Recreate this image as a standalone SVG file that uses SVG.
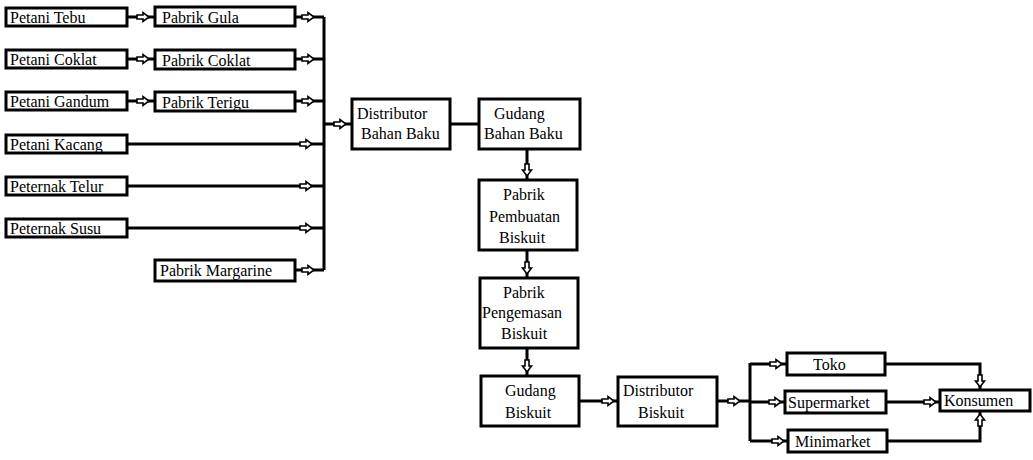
<svg xmlns="http://www.w3.org/2000/svg" xmlns:xlink="http://www.w3.org/1999/xlink" width="1033" height="460" viewBox="0 0 1033 460">
<style>
rect{fill:#fff;stroke:#000;stroke-width:3}
text{font-family:"Liberation Serif",serif;font-size:16px;fill:#000}
#connectors path{fill:none;stroke:#000;stroke-width:3}
.ah{fill:#fff;stroke:#000;stroke-width:1.6}
</style>
<defs><path id="ah" class="ah" d="M-6,-2 H0 V-4.5 L6,0 L0,4.5 V2 H-6 Z"/></defs>
<rect width="1033" height="460" style="fill:#fff;stroke:none"/>
<g id="connectors">
<path d="M127,17H155M127,59H155M127,101H155M295,17H324M295,59H324M295,101H324M127,144H324M127,186H324M127,228H324M295,270H324M324,17V270M324,124H352M450,124H479M527,149V180M527,250V278M527,348V376M579,401H618M717,401H750M750,363V441M750,364H787M750,402H785M750,441H788M885,364H980V390M886,402H940M887,441H980V411"/>
<use xlink:href="#ah" x="143" y="17"/><use xlink:href="#ah" x="143" y="59"/><use xlink:href="#ah" x="143" y="101"/>
<use xlink:href="#ah" x="308" y="17"/><use xlink:href="#ah" x="308" y="59"/><use xlink:href="#ah" x="308" y="101"/>
<use xlink:href="#ah" x="306" y="144"/><use xlink:href="#ah" x="306" y="186"/><use xlink:href="#ah" x="306" y="228"/><use xlink:href="#ah" x="308" y="270"/>
<use xlink:href="#ah" x="340" y="124"/>
<use xlink:href="#ah" transform="translate(527,170) rotate(90)"/>
<use xlink:href="#ah" transform="translate(527,268) rotate(90)"/>
<use xlink:href="#ah" transform="translate(527,366) rotate(90)"/>
<use xlink:href="#ah" x="608" y="401"/><use xlink:href="#ah" x="734" y="401"/>
<use xlink:href="#ah" x="776" y="364"/><use xlink:href="#ah" x="775" y="402"/><use xlink:href="#ah" x="778" y="441"/>
<use xlink:href="#ah" x="930" y="402"/>
<use xlink:href="#ah" transform="translate(980,381) rotate(90)"/>
<use xlink:href="#ah" transform="translate(980,420) rotate(-90)"/>
</g>
<g id="petani-tebu"><rect x="6" y="8" width="121" height="18"/><text x="10" y="23">Petani Tebu</text></g>
<g id="petani-coklat"><rect x="6" y="50" width="121" height="18"/><text x="10" y="65">Petani Coklat</text></g>
<g id="petani-gandum"><rect x="6" y="92" width="121" height="18"/><text x="10" y="107">Petani Gandum</text></g>
<g id="petani-kacang"><rect x="6" y="135" width="121" height="18"/><text x="10" y="150">Petani Kacang</text></g>
<g id="peternak-telur"><rect x="6" y="177" width="121" height="18"/><text x="10" y="192">Peternak Telur</text></g>
<g id="peternak-susu"><rect x="6" y="219" width="121" height="18"/><text x="10" y="234">Peternak Susu</text></g>
<g id="pabrik-gula"><rect x="155" y="7" width="140" height="19"/><text x="162" y="23">Pabrik Gula</text></g>
<g id="pabrik-coklat"><rect x="155" y="50" width="140" height="19"/><text x="162" y="66">Pabrik Coklat</text></g>
<g id="pabrik-terigu"><rect x="155" y="92" width="140" height="19"/><text x="162" y="108">Pabrik Terigu</text></g>
<g id="pabrik-margarine"><rect x="155" y="260" width="140" height="21"/><text x="160" y="276">Pabrik Margarine</text></g>
<g id="distributor-bahan-baku"><rect x="352" y="99" width="98" height="50"/><text x="357" y="119">Distributor</text><text x="361" y="139">Bahan Baku</text></g>
<g id="gudang-bahan-baku"><rect x="479" y="99" width="101" height="50"/><text x="494" y="119">Gudang</text><text x="484" y="139">Bahan Baku</text></g>
<g id="pabrik-pembuatan"><rect x="479" y="180" width="98" height="70"/><text x="503" y="200">Pabrik</text><text x="489" y="222">Pembuatan</text><text x="499" y="243">Biskuit</text></g>
<g id="pabrik-pengemasan"><rect x="480" y="278" width="98" height="70"/><text x="503" y="298">Pabrik</text><text x="482" y="318">Pengemasan</text><text x="501" y="339">Biskuit</text></g>
<g id="gudang-biskuit"><rect x="481" y="376" width="98" height="50"/><text x="505" y="396">Gudang</text><text x="505" y="418">Biskuit</text></g>
<g id="distributor-biskuit"><rect x="618" y="377" width="99" height="49"/><text x="623" y="396">Distributor</text><text x="638" y="418">Biskuit</text></g>
<g id="toko"><rect x="787" y="353" width="98" height="22"/><text x="813" y="370">Toko</text></g>
<g id="supermarket"><rect x="785" y="391" width="101" height="22"/><text x="788" y="408">Supermarket</text></g>
<g id="minimarket"><rect x="788" y="430" width="99" height="22"/><text x="795" y="447">Minimarket</text></g>
<g id="konsumen"><rect x="940" y="390" width="90" height="21"/><text x="944" y="406">Konsumen</text></g>
</svg>
